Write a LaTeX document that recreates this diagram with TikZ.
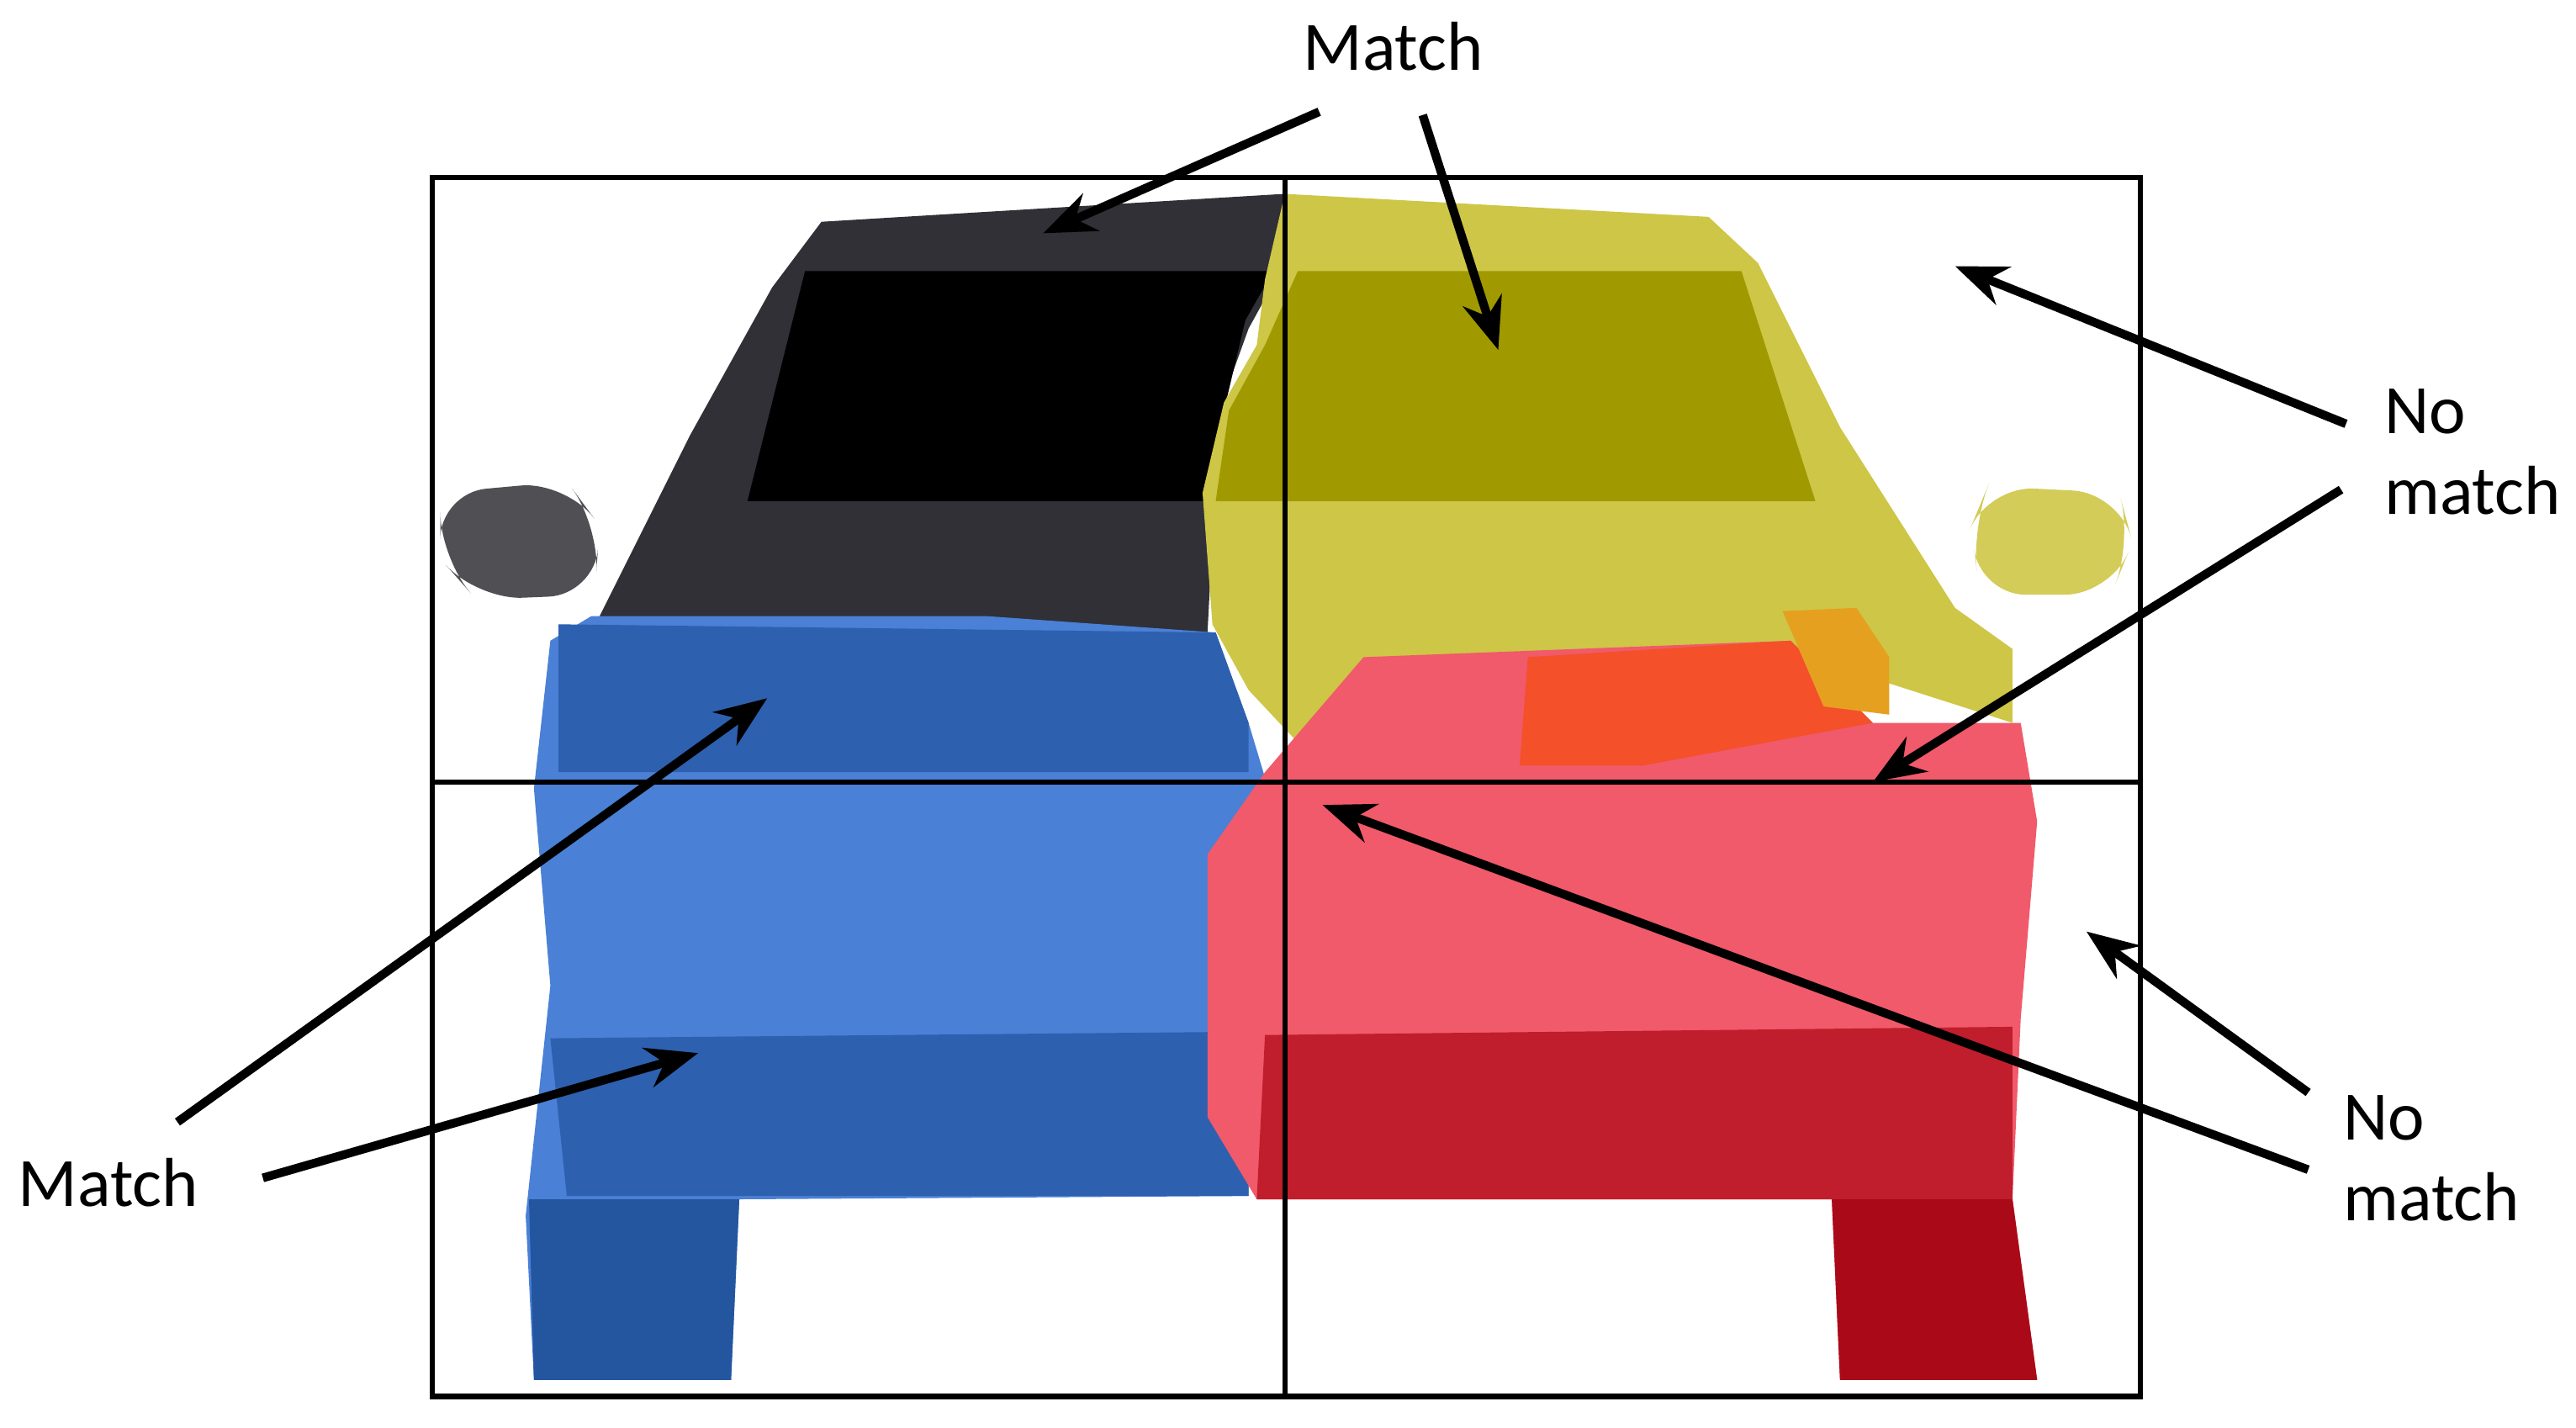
\documentclass[tikz,border=0pt]{standalone}
\usepackage{fontspec}
\setmainfont{Carlito}
\usetikzlibrary{arrows.meta}
\definecolor{dgray}{RGB}{48,48,54}
\definecolor{yel}{RGB}{206,198,70}
\definecolor{olive}{RGB}{160,154,0}
\definecolor{blu}{RGB}{74,128,214}
\definecolor{dblu}{RGB}{46,96,176}
\definecolor{wblu}{RGB}{36,86,160}
\definecolor{lred}{RGB}{240,90,106}
\definecolor{dred}{RGB}{192,30,44}
\definecolor{wred}{RGB}{170,10,24}
\definecolor{orng}{RGB}{244,80,42}
\definecolor{amber}{RGB}{230,160,32}
\tikzset{lbl/.style={font=\fontsize{12}{14}\selectfont, align=left, inner sep=0pt},
 arr/.style={line width=1.5pt, -{Stealth[length=9pt,width=7pt]}},
 grid/.style={line width=0.9pt}}
\begin{document}
\begin{tikzpicture}[x=0.01cm,y=-0.01cm]
\useasboundingbox (0,0) rectangle (1568,869);
\fill[dgray!85, rounded corners=8pt] (268,300) -- (345,293) -- (365,320) -- (362,362) -- (290,365) -- (268,340) -- cycle;
\fill[dgray] (360,385) -- (420,265) -- (470,175) -- (500,135) -- (782,118) -- (782,160) -- (760,200) -- (742,250) -- (735,385) -- cycle;
\fill[black] (455,305) -- (490,165) -- (775,165) -- (758,195) -- (745,250) -- (738,305) -- cycle;
\fill[yel] (770,170) -- (782,118) -- (1040,132) -- (1070,160) -- (1120,260) -- (1190,370) -- (1225,395) -- (1225,440) -- (1100,400) -- (790,452) -- (760,420) -- (738,380) -- (732,300) -- (745,245) -- (765,210) -- cycle;
\fill[olive] (790,165) -- (1060,165) -- (1105,305) -- (740,305) -- (748,250) -- (770,210) -- cycle;
\fill[yel!90!white, rounded corners=8pt] (1210,296) -- (1290,300) -- (1298,330) -- (1285,362) -- (1205,362) -- (1200,320) -- cycle;
\fill[blu] (335,390) -- (360,375) -- (600,375) -- (740,385) -- (760,440) -- (772,480) -- (760,520) -- (760,728) -- (450,730) -- (445,840) -- (325,840) -- (320,740) -- (335,600) -- (325,480) -- cycle;
\fill[dblu] (340,380) -- (740,385) -- (760,440) -- (760,470) -- (340,470) -- cycle;
\fill[dblu] (335,632) -- (760,628) -- (760,728) -- (345,728) -- cycle;
\fill[wblu] (322,730) -- (450,730) -- (445,840) -- (325,840) -- cycle;
\fill[lred] (770,470) -- (830,400) -- (1090,390) -- (1140,440) -- (1230,440) -- (1240,500) -- (1230,620) -- (1225,730) -- (1240,840) -- (1120,840) -- (1115,730) -- (765,730) -- (735,680) -- (735,520) -- cycle;
\fill[dred] (770,630) -- (1225,625) -- (1225,730) -- (765,730) -- cycle;
\fill[wred] (1115,730) -- (1225,730) -- (1240,840) -- (1120,840) -- cycle;
\fill[orng] (930,400) -- (1090,390) -- (1140,440) -- (1000,466) -- (925,466) -- cycle;
\fill[amber] (1085,372) -- (1130,370) -- (1150,400) -- (1150,435) -- (1110,430) -- cycle;
\draw[grid] (263,108) rectangle (1303,850);
\draw[grid] (782,108) -- (782,850);
\draw[grid] (263,476) -- (1303,476);
\node[lbl] (m1) at (848,28) {Match};
\node[lbl] (n1) at (1505,275) {No\\match};
\node[lbl] (n2) at (1480,705) {No\\match};
\node[lbl] (m2) at (66,720) {Match};
\coordinate (a1s) at (803,68); \coordinate (a1e) at (635,142);
\coordinate (a2s) at (866,70); \coordinate (a2e) at (912,213);
\coordinate (b1s) at (1428,258); \coordinate (b1e) at (1190,162);
\coordinate (b2s) at (1425,298); \coordinate (b2e) at (1140,476);
\coordinate (c1s) at (1405,665); \coordinate (c1e) at (1270,567);
\coordinate (c2s) at (1405,712); \coordinate (c2e) at (805,490);
\coordinate (d1s) at (108,683); \coordinate (d1e) at (467,425);
\coordinate (d2s) at (160,717); \coordinate (d2e) at (425,641);
\foreach \p in {a1,a2,b1,b2,c1,c2,d1,d2} \draw[arr] (\p s) -- (\p e);
\end{tikzpicture}
\end{document}
